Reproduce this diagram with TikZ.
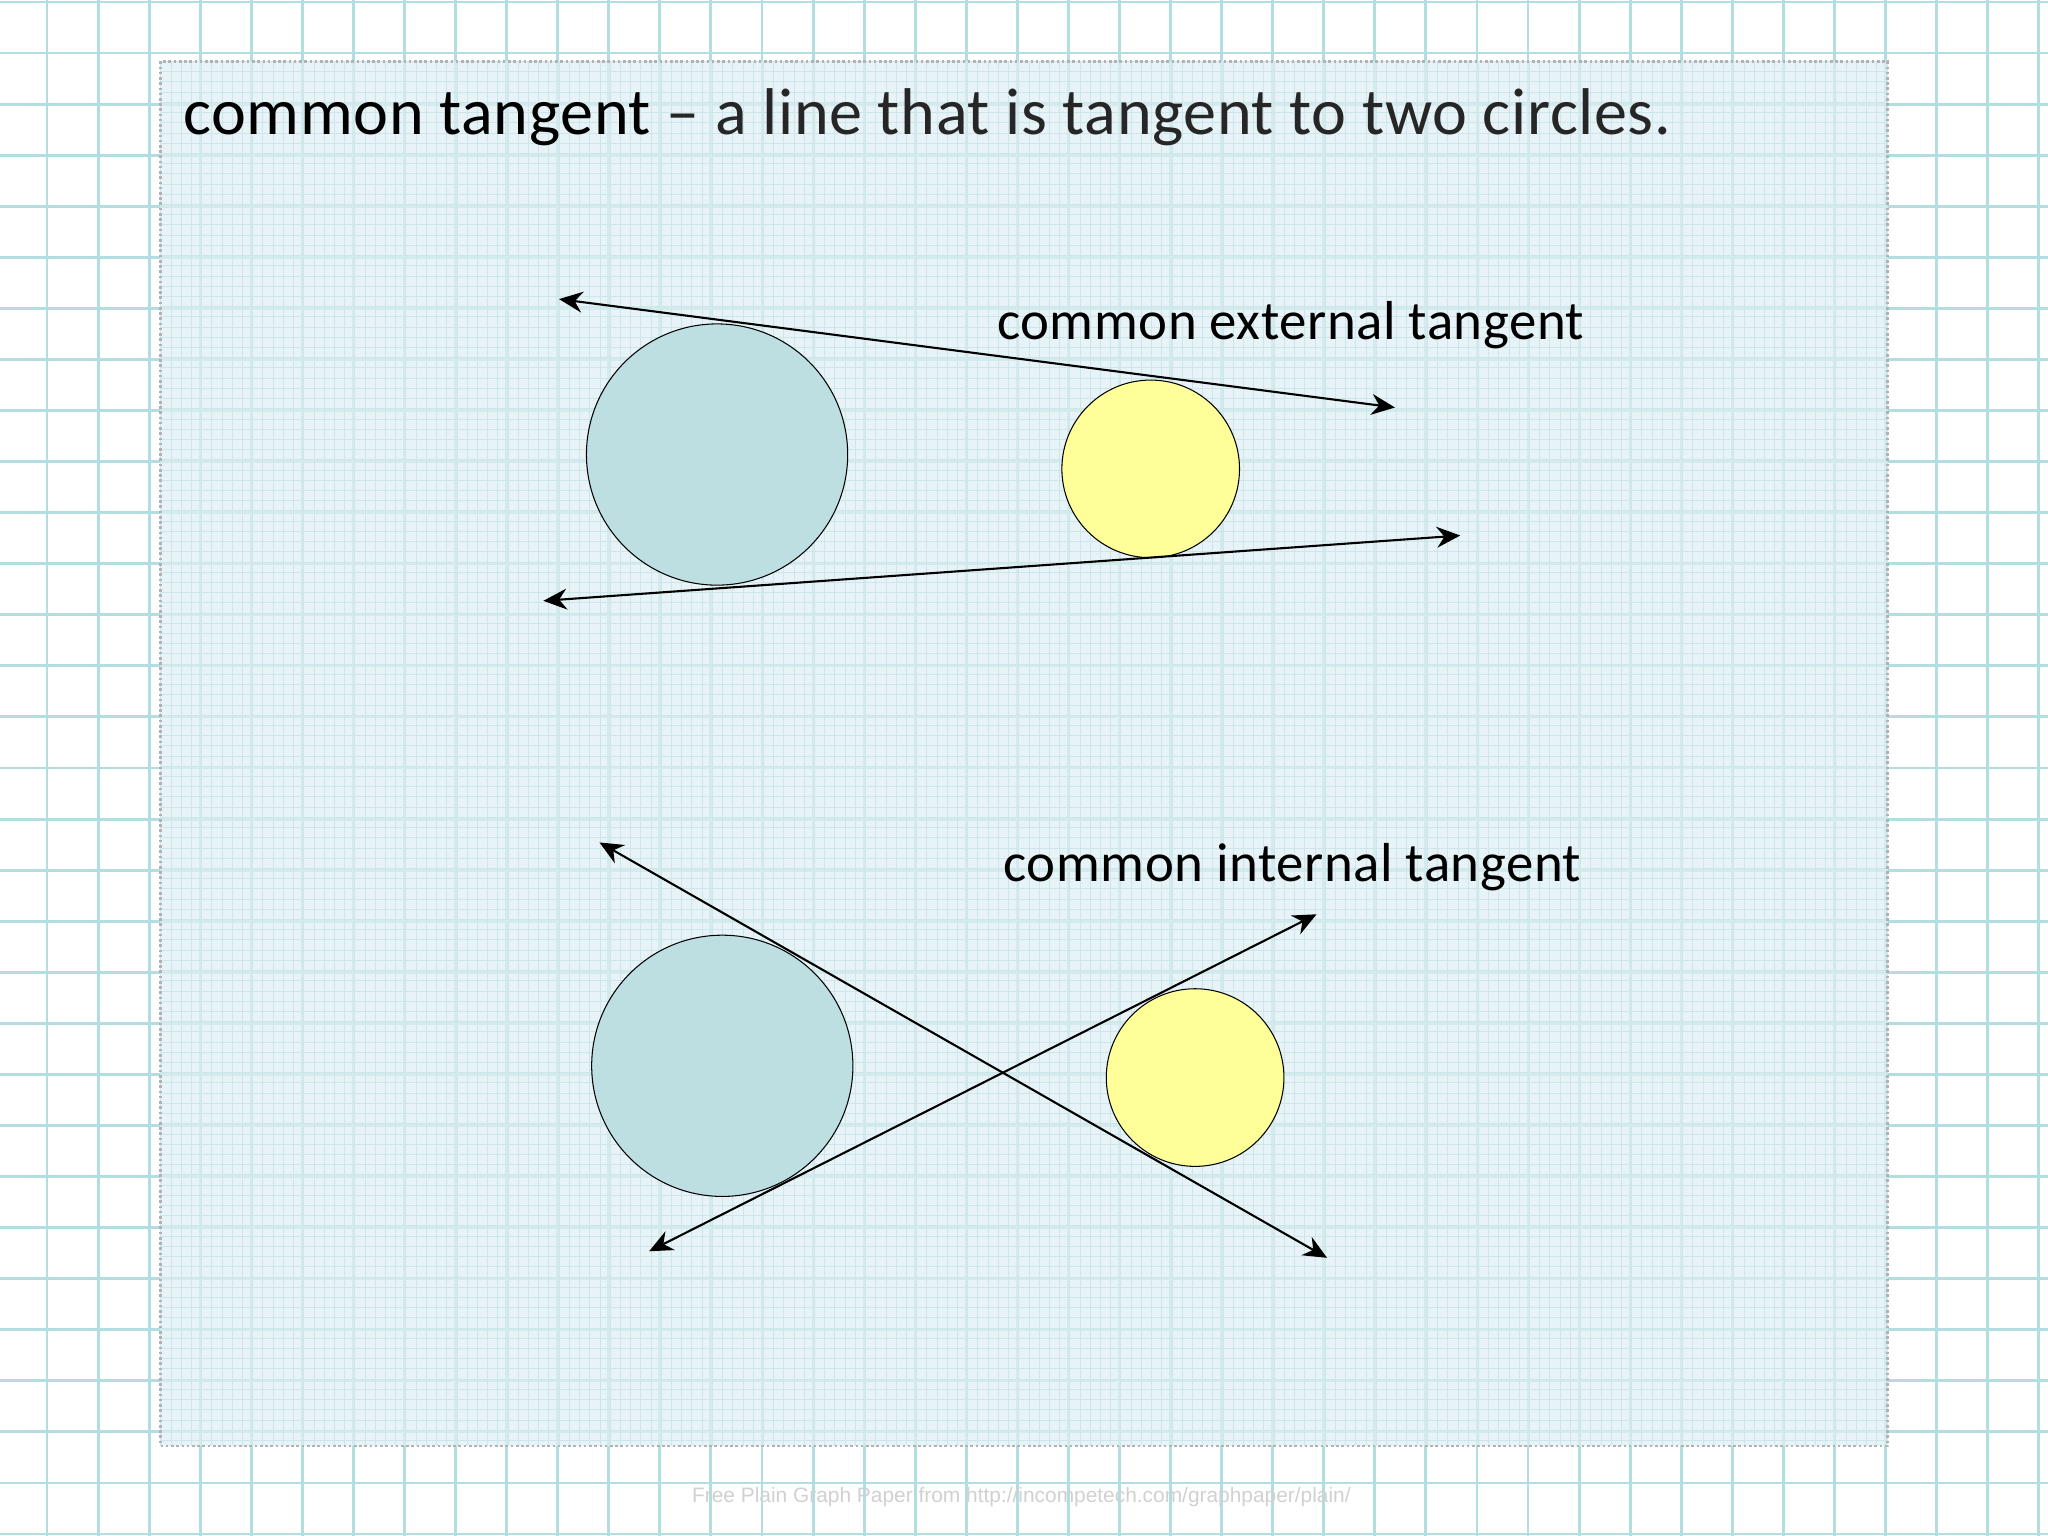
\documentclass[tikz,border=0pt]{standalone}
\usepackage{fontspec}
\setmainfont{Carlito}
\newfontfamily\footfont{Liberation Sans}
\usetikzlibrary{arrows.meta}
\definecolor{gridc}{HTML}{B2DDE1}
\definecolor{finegrid}{HTML}{CCE6EA}
\definecolor{panel}{HTML}{E0F0F3}
\definecolor{bigc}{HTML}{BDDFE2}
\definecolor{smallc}{HTML}{FFFF99}
\tikzset{
  bigcirc/.style={circle,draw=black,fill=bigc,minimum size=100pt,inner sep=0pt},
  smallcirc/.style={circle,draw=black,fill=smallc,minimum size=68pt,inner sep=0pt},
  tan/.style={thick,{Stealth[length=9pt,width=8pt]}-{Stealth[length=9pt,width=8pt]}},
  lbl/.style={font=\fontsize{21}{23}\selectfont\addfontfeature{LetterSpace=1}, inner sep=0pt, anchor=west}
}
\begin{document}
\begin{tikzpicture}[x=0.5pt,y=-0.5pt]
\useasboundingbox (0,0) rectangle (1568,1176);
\fill[white] (0,0) rectangle (1568,1176);
% major grid
\foreach \i in {0,...,40} {\draw[gridc,line width=1.1pt] (-3.1+39.1*\i,0) -- (-3.1+39.1*\i,1176);}
\foreach \i in {0,...,30} {\draw[gridc,line width=1.1pt] (0,1.5+39.1*\i) -- (1568,1.5+39.1*\i);}
% panel
\fill[panel,opacity=0.75] (123,47) rectangle (1445,1107);
\foreach \i in {0,...,169} {\draw[finegrid,line width=0.25pt] (123+7.82*\i,47) -- (123+7.82*\i,1107);}
\foreach \i in {0,...,135} {\draw[finegrid,line width=0.25pt] (123,47+7.82*\i) -- (1445,47+7.82*\i);}
\draw[gray!60,line width=1pt,densely dotted] (123,47) rectangle (1445,1107);
% title
\node[anchor=west,inner sep=0pt,font=\fontsize{25.3}{27}\selectfont\addfontfeature{LetterSpace=1}] (title) at (140,90) {common tangent \textcolor{black!85}{-- a line that is tangent to two circles.}};
% external
\node[bigcirc] (b1) at (549,348) {};
\node[smallcirc] (s1) at (881,359) {};
\coordinate (e1a) at (428,229); \coordinate (e1b) at (1068,312);
\coordinate (e2a) at (416,460); \coordinate (e2b) at (1118,410);
\draw[tan] (e1a) -- (e1b);
\draw[tan] (e2a) -- (e2b);
\node[lbl] (lext) at (763,249) {common external tangent};
% internal
\node[bigcirc] (b2) at (553,816) {};
\node[smallcirc] (s2) at (915,825) {};
\coordinate (i1a) at (459,645); \coordinate (i1b) at (1016,963);
\coordinate (i2a) at (497,958); \coordinate (i2b) at (1008,700);
\draw[tan] (i1a) -- (i1b);
\draw[tan] (i2a) -- (i2b);
\node[lbl] (lint) at (768,664) {common internal tangent};
% footer
\node[font=\fontsize{8}{9}\selectfont\footfont,text=black!18] (foot) at (782,1146) {Free Plain Graph Paper from http://incompetech.com/graphpaper/plain/};
\end{tikzpicture}
\end{document}
